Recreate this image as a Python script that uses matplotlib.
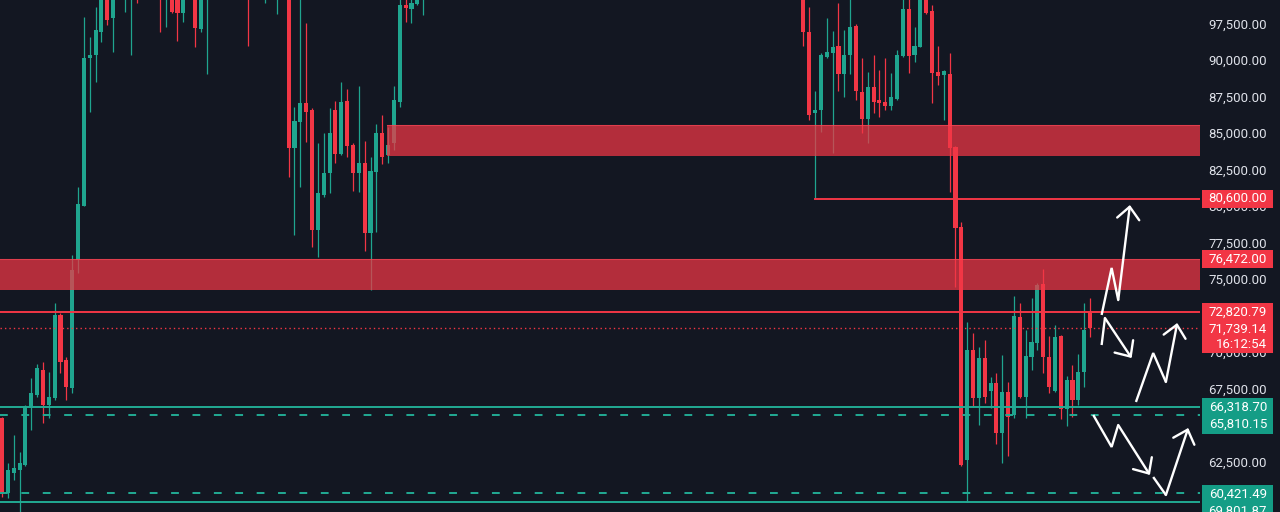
import matplotlib
matplotlib.use("Agg")
import matplotlib.pyplot as plt
from matplotlib.patches import Rectangle
import matplotlib.transforms as mtransforms

# ---------------- data ----------------
# OHLC per candle (index 0..186). None = candle entirely above the visible window.
opens = [
    65580, 60450, 61820, 62020, 62360, 66270, 67160, 68870, 66470, 66950,
    72640, 69560, 67640, 76400, 80100, 90240, 90440, 92020, 94900, 92980,
    None, 95200, 95500, 96300, None, None, None, 95800, 94700, 94500,
    95000, 93320, None, 95600, 92230, 94600, None, None, None, None,
    None, None, 96500, None, None, 95000, None, 95300, None, 95800,
    84080, 85860, 87160, 86680, 78460, 80860, 82360, 86680, 83660, 87290,
    84280, 82360, 83050, 78250, 82430, 85100, 83600, 84420, 87230, 93870,
    93600, 93940, 94800, *[None] * 64,
    96000, 92020, 86470, 86680, 90310, 90580, 91060, 89140, 90440, 92430,
    87910, 86060, 88250, 87360, 87230, 86950, 87430, 90380, 93600, 90440,
    90990, 94550, 93460, 89280, 89070, 89140, 84140, 78660, 62710, 70240,
    66950, 69690, 67430, 67980, 64560, 67360, 65790, 72500, 67020, 69760,
    70720, 74760, 69760, 67430, 71200, 66200, 68190, 66820, 68730, 72820,
]
highs = [
    65650, 62500, 64420, 63250, 66470, 68320, 69280, 69420, 68730, 73460,
    72770, 69760, 76750, 81400, 93050, 91680, 93730, 95240, 95580, 95920,
    None, 96800, 97000, 96900, None, None, None, 96400, 96200, 95600,
    95800, 95900, None, 96200, 95700, 96000, None, None, None, None,
    None, None, 97200, None, None, 96300, None, 96700, None, 96400,
    86880, 94600, 92640, 86810, 84420, 85100, 86810, 87290, 88600, 88120,
    84420, 88320, 84550, 83460, 85720, 86340, 85510, 88320, 94900, 94550,
    94900, 95240, 96200, *[None] * 64,
    96600, 93730, 87980, 90580, 92980, 92090, 94010, 92160, 94550, 92570,
    90240, 89280, 90440, 89420, 90240, 89210, 90790, 94550, 94400, 92360,
    95240, 95240, 93870, 91060, 89420, 90580, 84200, 79010, 72160, 71400,
    70450, 70930, 68390, 68660, 69900, 68050, 73940, 73460, 71610, 73800,
    74830, 75790, 71200, 71950, 71270, 68460, 69210, 69970, 73460, 73800,
]
lows = [
    60170, 60100, 61340, 58940, 62300, 64760, 67020, 65240, 65580, 66820,
    68660, 66820, 67300, 75510, 80100, 86540, 88600, 91330, 92500, 90650,
    None, 93390, 90440, 94010, None, None, None, 92020, 92360, 93300,
    91400, 92700, None, 90990, 92020, 89140, None, None, None, None,
    None, None, 91060, None, None, 94010, None, 93250, None, 82090,
    78120, 81400, 84490, 77290, 76610, 80720, 80990, 83050, 83600, 83460,
    81130, 81060, 77020, 74350, 78320, 82980, 83050, 83940, 86880, 92700,
    92640, 93900, 93180, *[None] * 64,
    91060, 85990, 80600, 85170, 90240, 83730, 87980, 87570, 89140, 87360,
    85100, 84420, 86470, 86200, 86680, 86680, 87360, 90310, 89210, 89970,
    90990, 93250, 87160, 88390, 85990, 81060, 74550, 62300, 59830, 66340,
    65100, 66610, 66270, 63800, 62500, 62980, 65580, 66950, 65580, 68870,
    70240, 68660, 67300, 67360, 65510, 65030, 65650, 66470, 67710, 71130,
]
closes = [
    60450, 62020, 62160, 62500, 66340, 67300, 69010, 66470, 67020, 72640,
    69420, 67710, 75720, 80240, 90240, 90440, 92160, 94550, 92840, 94900,
    None, 96000, 96300, 95000, None, None, None, 94600, 95500, 93390,
    93320, 95200, None, 92290, 95000, 95400, None, None, None, None,
    None, None, 95500, None, None, 95600, None, 96000, None, 84080,
    85920, 87160, 86540, 78460, 80990, 82360, 85100, 83660, 87230, 84210,
    82360, 83050, 78250, 82500, 85100, 83460, 84280, 87360, 93870, 93660,
    94010, 94550, 95500, *[None] * 64,
    92020, 86340, 86680, 90440, 90650, 90990, 89140, 90440, 92360, 87980,
    86060, 88250, 87230, 87160, 86950, 87570, 90440, 93600, 90380, 91060,
    94550, 93320, 89210, 89010, 89350, 84080, 78600, 62360, 70240, 66950,
    69690, 67020, 67980, 64560, 67360, 65650, 72570, 67020, 69830, 70790,
    74690, 69760, 67710, 71130, 66200, 68190, 66820, 68730, 71610, 71739,
]

# supply zones: (first candle index, bottom price, top price)
zones = [(65.9, 83530, 85650), (-1.0, 74350, 76472)]

# horizontal levels
level_80600 = 80600.00
level_80600_start = 139
red_level = 72820.79
last_price = 71739.14
teal_solid = [66318.70, 59801.87]
teal_dashed = [65810.15, 60421.49]

# price axis (labels that stay visible beside the price boxes)
tick_prices = [92500, 90000, 87500, 85000, 82500, 80000, 77500, 75000,
               70000, 67500, 62500]
tick_labels = ["97,500.00", "90,000.00", "87,500.00", "85,000.00", "82,500.00",
               "80,000.00", "77,500.00", "75,000.00", "70,000.00",
               "67,500.00", "62,500.00"]

# price label boxes: (colour key, [label texts], [anchor prices])
label_boxes = [
    ("red", ["80,600.00"], [80600.00]),
    ("red", ["76,472.00"], [76472.00]),
    ("red", ["72,820.79", "71,739.14", "16:12:54"], [72820.79, 71739.14, 71739.14]),
    ("teal", ["66,318.70", "65,810.15"], [66318.70, 65810.15]),
    ("teal", ["60,421.49", "69,801.87"], [60421.49, 59801.87]),
]
label_text_shift_px = [[0], [0], [0, -1, -16], [0, -10], [-1, -9]]

# projected paths drawn in white (candle index, price)
arrow_paths = [
    ([187.98, 189.69, 190.82, 192.82], [72640, 75860, 73660, 80170]),
    ([187.98, 188.55, 193.11], [70580, 72430, 69690]),
    ([193.85, 196.80, 198.97, 200.91], [66680, 70030, 68050, 72090]),
    ([186.55, 189.69, 190.82, 196.24], [65790, 63600, 65100, 61680]),
    ([196.80, 198.97, 202.79], [61540, 60310, 64900]),
]

# ---------------- style ----------------
BG = "#131722"
UP = "#1fa58f"
DOWN = "#f23645"
ZONE = "#f23645"
TEAL_LINE = "#22ab94"
BOX_COL = {"red": "#f23645", "teal": "#149d86"}
AXIS_TXT = "#dfe2ea"
FONT = ["Roboto", "DejaVu Sans"]

W, H = 1280, 512
fig = plt.figure(figsize=(W / 100, H / 100), dpi=100, facecolor=BG)
ax = fig.add_axes([0, 0, 1200 / W, 1])
ax.set_facecolor(BG)
ax.set_xlim(-0.342, 204.8)
ax.set_ylim(59144, 94211)
ax.axis("off")

# candles
for i, (o, h, l, c) in enumerate(zip(opens, highs, lows, closes)):
    if o is None:
        continue
    col = UP if c >= o else DOWN
    ax.vlines(i, l, h, color=col, lw=0.9, zorder=2)
    lo, hi = min(o, c), max(o, c)
    ax.bar(i, max(hi - lo, 70), bottom=lo, width=0.7, color=col,
           linewidth=0, zorder=3)

# zones (drawn over candles, semi transparent)
x_right = ax.get_xlim()[1]
for x0, lo, hi in zones:
    ax.add_patch(Rectangle((x0, lo), x_right - x0, hi - lo, facecolor=ZONE,
                           edgecolor="none", alpha=0.72, zorder=4))
    ax.plot([x0, x_right], [hi, hi], color="#ff4a5a", lw=0.8, alpha=0.6, zorder=4)

# levels
ax.plot([level_80600_start, x_right], [level_80600] * 2, color=DOWN, lw=1.4, zorder=5)
ax.axhline(red_level, color=DOWN, lw=1.4, zorder=5)
ax.axhline(last_price, color=DOWN, lw=1.0, ls=(0, (1, 2.2)), zorder=5)
for v in teal_solid:
    ax.axhline(v, color=TEAL_LINE, lw=1.4, zorder=5)
for v in teal_dashed:
    ax.axhline(v, color=TEAL_LINE, lw=1.4, ls=(0, (4, 7)), zorder=5)

# arrows
for xs, ys in arrow_paths:
    ax.plot(xs[:-1], ys[:-1], color="white", lw=1.7, solid_joinstyle="miter",
            solid_capstyle="butt", zorder=8)
    ax.annotate("", xy=(xs[-1], ys[-1]), xytext=(xs[-2], ys[-2]),
                arrowprops=dict(arrowstyle="->,head_length=0.55,head_width=0.5",
                                color="white", lw=1.7, shrinkA=0, shrinkB=0,
                                mutation_scale=16), zorder=8)

# price axis labels (figure x, data y)
fig.canvas.draw()
trans = mtransforms.blended_transform_factory(fig.transFigure, ax.transData)
x_text = 1267 / W
for p, t in zip(tick_prices, tick_labels):
    fig.text(x_text, p, t, transform=trans, ha="right", va="center",
             color=AXIS_TXT, fontsize=9.5, family=FONT, zorder=5)


def price_to_pix(p):
    return ax.transData.transform((0, p))[1]


for (ck, texts, anchors), shifts in zip(label_boxes, label_text_shift_px):
    ys = [price_to_pix(a) + s for a, s in zip(anchors, shifts)]
    top = max(ys) + 9
    bot = min(ys) - 9
    fig.add_artist(Rectangle((1201.7 / W, bot / H), 71 / W, (top - bot) / H,
                             transform=fig.transFigure, facecolor=BOX_COL[ck],
                             edgecolor="none", zorder=6))
    for t, y in zip(texts, ys):
        fig.text(x_text, y / H, t, ha="right", va="center", color="white",
                 fontsize=9.5, family=FONT, zorder=7)

fig.savefig("out.png", dpi=100, facecolor=BG)
